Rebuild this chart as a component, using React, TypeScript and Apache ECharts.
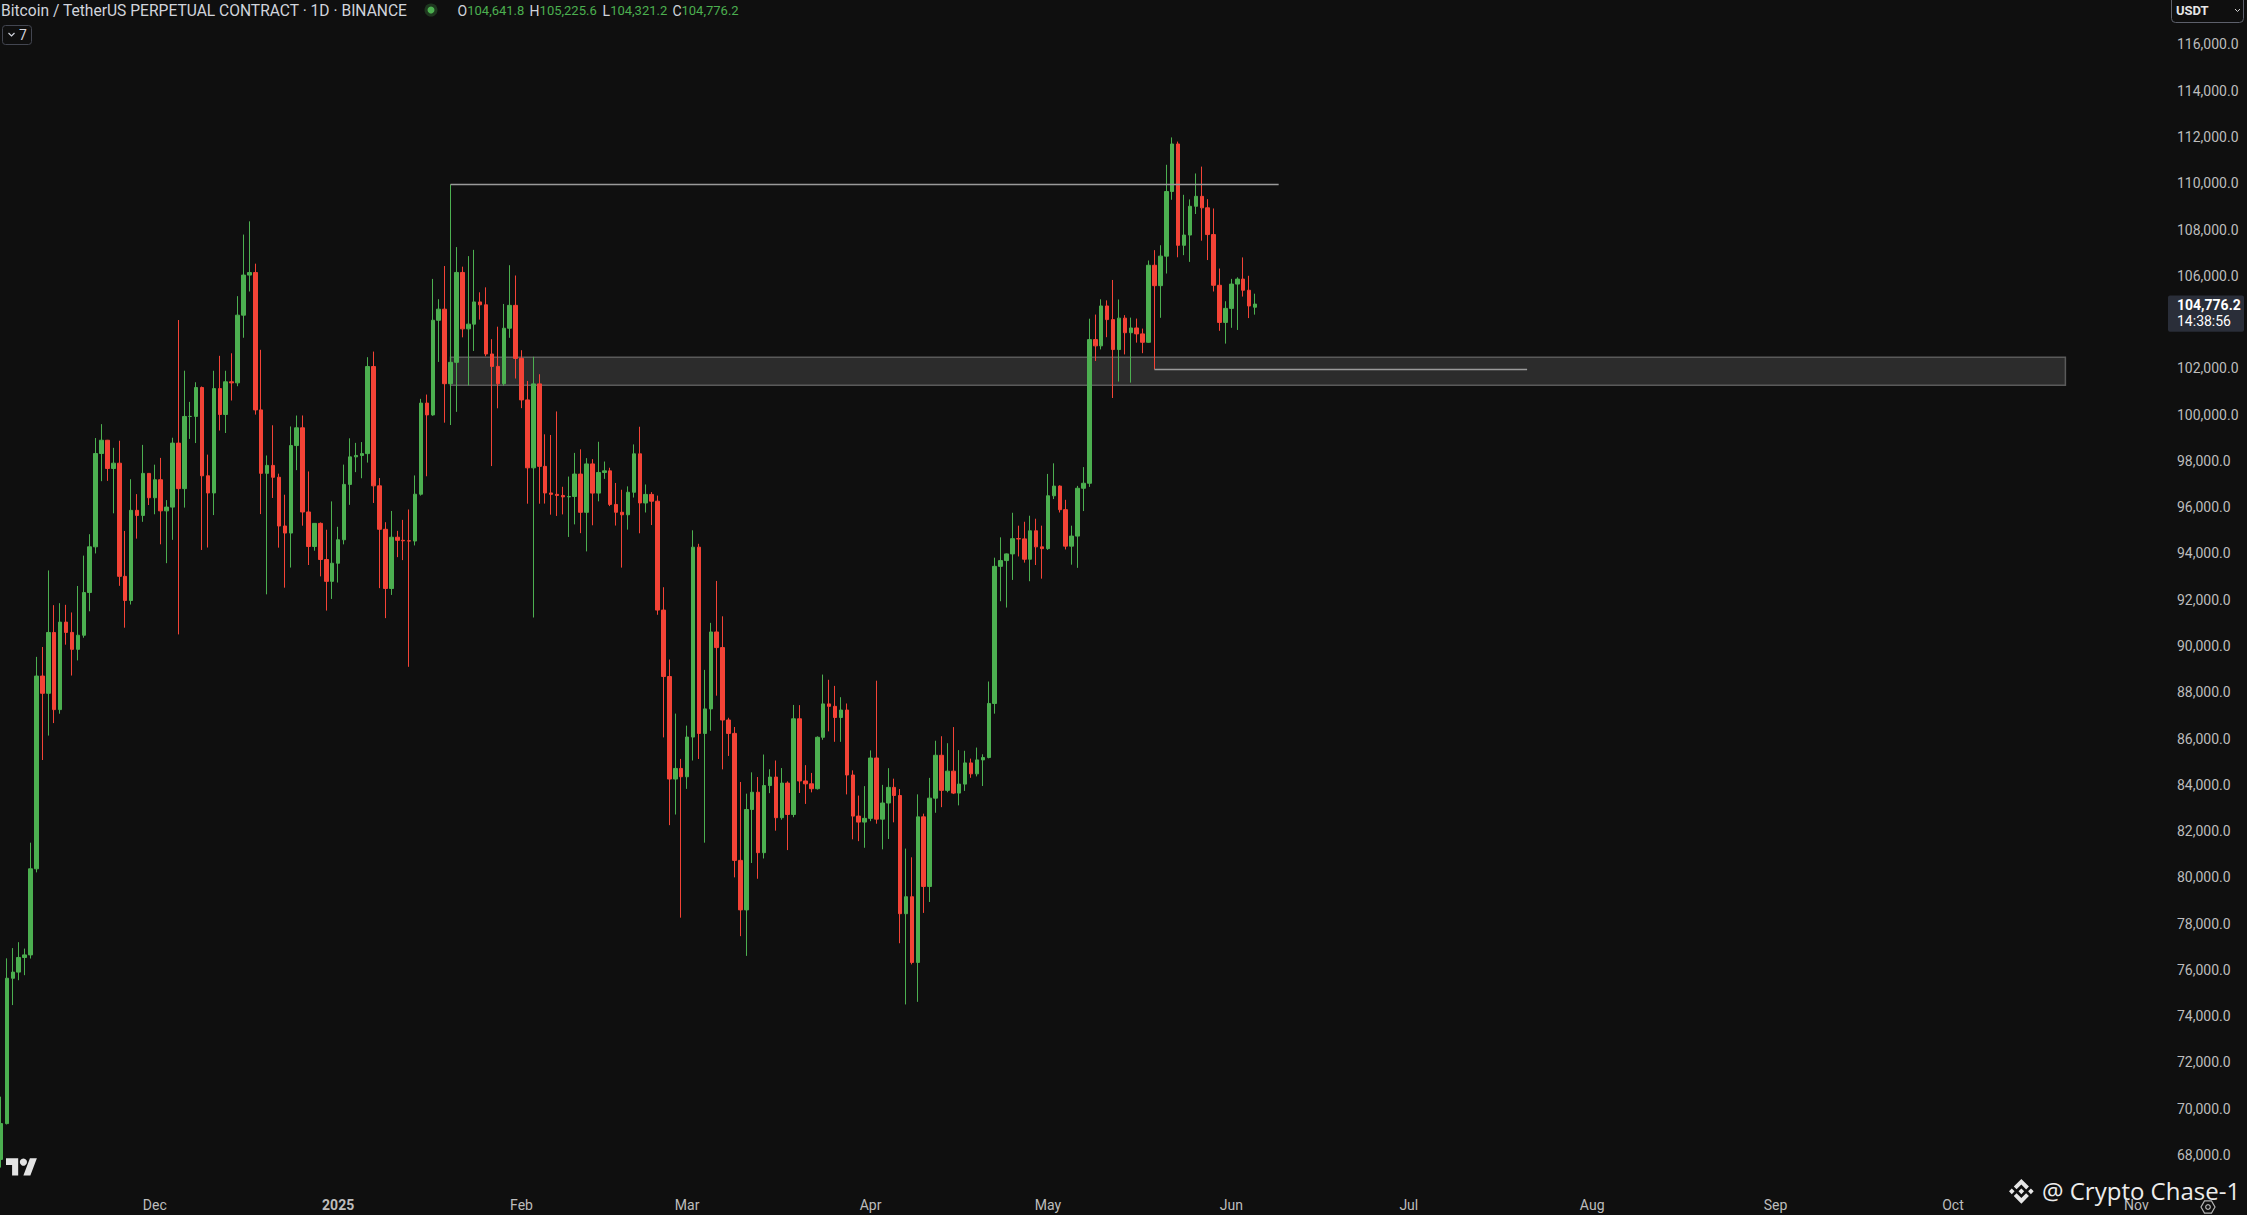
import React, { useEffect, useRef } from "react";
import * as echarts from "echarts";

// ---------- data ----------
const START_DATE = "2024-11-05";
const AXIS_DAYS = 366;

// each row: [open, high, low, close]
const nov2024 = [
  [67811, 70522, 67458, 69359], [69359, 76500, 69322, 75640], [75640, 76943, 74480, 75905],
  [75905, 77199, 75556, 76538], [76538, 76922, 75773, 76649], [76649, 81500, 76492, 80370],
  [80370, 89530, 80216, 88701], [88701, 89956, 85072, 87955], [87955, 93265, 86128, 90585],
  [90585, 91765, 86668, 87250], [87250, 91850, 87073, 91032], [91032, 91779, 90057, 90587],
  [90587, 91449, 88723, 89855], [89855, 92594, 89376, 90465], [90465, 93905, 90357, 92310],
  [92310, 94831, 91500, 94286], [94286, 98988, 94000, 98318], [98318, 99588, 97122, 98892],
  [98892, 98908, 97136, 97672], [97672, 98564, 95734, 97900], [97900, 98871, 92600, 93010],
  [93010, 94973, 90791, 91965], [91965, 97208, 91792, 95863], [95863, 96564, 94640, 95643],
  [95643, 98692, 95366, 97460], [97460, 97463, 96092, 96407],
];
const dec2024 = [
  [96407, 97836, 95693, 97185], [97185, 98130, 94395, 95840], [95840, 96305, 93579, 96002],
  [96002, 99000, 94587, 98768], [98768, 104088, 90500, 96800], [96800, 101898, 95981, 99920],
  [99920, 100551, 98950, 99923], [99923, 101399, 98771, 101171], [101171, 101215, 94150, 97356],
  [97356, 98270, 94256, 96613], [96613, 101895, 95658, 101125], [101125, 102540, 99311, 100005],
  [100005, 101895, 99205, 101418], [101418, 102650, 100609, 101372], [101372, 105120, 101227, 104298],
  [104298, 107781, 103322, 106030], [106030, 108353, 105321, 106140], [106140, 106524, 100000, 100204],
  [100204, 102800, 95700, 97462], [97462, 98233, 92232, 97805], [97805, 99540, 96398, 97292],
  [97292, 97448, 94250, 95186], [95186, 96538, 92520, 94881], [94881, 99487, 93390, 98663],
  [98663, 99960, 97600, 99430], [99430, 99963, 95199, 95792], [95792, 97544, 93500, 94299],
  [94299, 95300, 94118, 95300], [95300, 95340, 93009, 93738], [93738, 95024, 91530, 92793],
  [92793, 96250, 92033, 93576],
];
const jan2025 = [
  [93576, 95151, 92743, 94591], [94591, 97839, 94392, 96984], [96984, 98976, 96100, 98174],
  [98174, 98778, 97514, 98236], [98236, 98813, 97250, 98314], [98314, 102482, 97926, 102078],
  [102078, 102724, 96181, 96922], [96922, 97259, 92500, 95043], [95043, 95350, 91203, 92484],
  [92484, 95836, 92206, 94701], [94701, 94977, 93840, 94567], [94567, 95450, 93712, 94546],
  [94546, 95900, 89100, 94536], [94536, 97371, 94346, 96560], [96560, 100681, 96500, 100498],
  [100498, 100866, 97336, 99987], [99987, 105865, 99950, 104077], [104077, 104988, 102277, 104557],
  [104557, 106422, 99651, 101336], [101336, 109950, 99550, 102260], [102260, 107240, 100119, 106144],
  [106144, 106394, 103339, 103706], [103706, 106850, 101262, 103910], [103910, 107120, 102750, 104870],
  [104870, 105286, 104107, 104746], [104746, 105500, 102520, 102620], [102620, 103260, 97777, 102083],
  [102083, 103800, 100272, 101335], [101335, 104782, 101256, 103733], [103733, 106457, 103320, 104722],
  [104722, 106012, 101560, 102430],
];
const feb2025 = [
  [102430, 102783, 100279, 100635], [100635, 101456, 96150, 97700], [97700, 102500, 91231, 101328],
  [101328, 101745, 96150, 97763], [97763, 99149, 96155, 96613], [96613, 99120, 95676, 96554],
  [96554, 100137, 95620, 96506], [96506, 96880, 95688, 96444], [96444, 97323, 94713, 96462],
  [96462, 98345, 95256, 97430], [97430, 98500, 94876, 95778], [95778, 98119, 94088, 97869],
  [97869, 98076, 95217, 96608], [96608, 98826, 96252, 97500], [97500, 97972, 97223, 97569],
  [97569, 97704, 96046, 96118], [96118, 97046, 95205, 95780], [95780, 96753, 93388, 95671],
  [95671, 96899, 95029, 96644], [96644, 98711, 96415, 98305], [98305, 99475, 94871, 96181],
  [96181, 96980, 95770, 96551], [96551, 96650, 95227, 96258], [96258, 96500, 91349, 91552],
  [91552, 92540, 86050, 88680], [88680, 89414, 82256, 84250], [84250, 87078, 82716, 84708],
  [84708, 85120, 78258, 84349],
];
const mar2025 = [
  [84349, 86558, 83824, 86064], [86064, 95000, 85050, 94270], [94270, 94416, 85117, 86220],
  [86220, 88967, 81500, 87281], [87281, 91000, 86334, 90606], [90606, 92811, 87852, 89931],
  [89931, 91283, 84667, 86801], [86801, 86897, 85248, 86222], [86222, 86500, 80000, 80734],
  [80734, 84123, 77459, 78595], [78595, 83617, 76606, 82932], [82932, 84539, 80621, 83680],
  [83680, 84336, 79939, 81067], [81067, 85309, 80818, 83968], [83968, 84672, 83639, 84335],
  [84335, 85051, 82018, 82579], [82579, 84725, 82492, 84075], [84075, 84150, 81179, 82718],
  [82718, 87453, 82600, 86854], [86854, 87443, 83647, 84167], [84167, 84850, 83175, 84043],
  [84043, 84513, 83674, 83832], [83832, 86094, 83794, 86054], [86054, 88765, 85946, 87498],
  [87498, 88539, 86310, 87392], [87392, 88275, 85860, 86910], [86910, 87786, 85858, 87232],
  [87232, 87515, 83585, 84424], [84424, 84624, 81644, 82648], [82648, 83534, 81565, 82389],
  [82389, 83943, 81279, 82550],
];
const apr2025 = [
  [82550, 85487, 82429, 85159], [85159, 88500, 82320, 82516], [82516, 83998, 81211, 83213],
  [83213, 84720, 81659, 83889], [83889, 84266, 82379, 83538], [83538, 83817, 77153, 78430],
  [78430, 81243, 74508, 79163], [79163, 80867, 76239, 76323], [76323, 83588, 74620, 82615],
  [82615, 82753, 78464, 79607], [79607, 84300, 78936, 83424], [83424, 85905, 82792, 85277],
  [85277, 86100, 83034, 83760], [83760, 85799, 83678, 84591], [84591, 86496, 83600, 83643],
  [83643, 85500, 83111, 84030], [84030, 85470, 83736, 84947], [84947, 85132, 84303, 84474],
  [84474, 85610, 84364, 85077], [85077, 85320, 83949, 85179], [85179, 88465, 85144, 87516],
  [87516, 93817, 87076, 93442], [93442, 94696, 91935, 93691], [93691, 94000, 91661, 93980],
  [93980, 95758, 92855, 94638], [94638, 95199, 93870, 94629], [94629, 95369, 93602, 93750],
  [93750, 95630, 92800, 94979], [94979, 95500, 93500, 94284], [94284, 95200, 92910, 94208],
];
const may2025 = [
  [94208, 97437, 94153, 96492], [96492, 97895, 96350, 96910], [96910, 96943, 95770, 95891],
  [95891, 96318, 94172, 94315], [94315, 95199, 93514, 94749], [94749, 96920, 93377, 96817],
  [96817, 97732, 95832, 97033], [97033, 104145, 96876, 103241], [103241, 104324, 102316, 102971],
  [102971, 104984, 102818, 104696], [104696, 104937, 103346, 104106], [104106, 105819, 100718, 102812],
  [102812, 104976, 101429, 104170], [104170, 104300, 102602, 103539], [103539, 104192, 101383, 103744],
  [103744, 104150, 103111, 103489], [103489, 103718, 102655, 103126], [103126, 106660, 103105, 106454],
  [106454, 107108, 101956, 105573], [105573, 107320, 104184, 106849], [106849, 110797, 106098, 109643],
  [109643, 111980, 109285, 111696], [111696, 111800, 106800, 107318], [107318, 109500, 106891, 107761],
  [107761, 109299, 106601, 109004], [109004, 110422, 108670, 109434], [109434, 110718, 107516, 108938],
  [108938, 109313, 106680, 107781], [107781, 108910, 105322, 105589], [105589, 106313, 103621, 103985],
  [103985, 104900, 103068, 104591],
];
const jun2025 = [
  [104591, 105866, 103752, 105642], [105642, 105935, 103659, 105857], [105857, 106794, 105100, 105376],
  [105376, 105999, 104172, 104696], [104641.8, 105225.6, 104321.2, 104776.2],
];

// drawings
const RESIST_LEVEL = 109950;
const RESIST_FROM = "2025-01-20";
const RESIST_TO = "2025-06-09";
const SUPPORT_LEVEL = 101956;
const SUPPORT_FROM = "2025-05-19";
const SUPPORT_TO = "2025-07-21";
const ZONE_TOP = 102479;
const ZONE_BOTTOM = 101264;
const ZONE_FROM = "2025-01-20";
const ZONE_TO = "2025-10-20";

const Y_MIN = 66000;
const Y_MAX = 118000;
const Y_STEP = 2000;

const TITLE = "Bitcoin / TetherUS PERPETUAL CONTRACT · 1D · BINANCE";
const COUNTDOWN = "14:38:56";
const WATERMARK = "@ Crypto Chase-1";
const MONTHS = ["Jan", "Feb", "Mar", "Apr", "May", "Jun", "Jul", "Aug", "Sep", "Oct", "Nov", "Dec"];

// ---------- style ----------
const BG = "#0f0f0f";
const UP = "#4caf50";
const DOWN = "#f44336";
const AXIS_TEXT = "#bdbdbd";
const HEAD_TEXT = "#d1d4dc";
const FONT = 'Roboto, "Noto Sans", sans-serif';

const TV_PATH = "M14 22H7V11H0V4h14v18zM28 22h-8l7.5-18h8L28 22z";
const BNB_PATH =
  "M38.73 53.2L63.3 28.63L87.89 53.22L102.19 38.92L63.3 0L24.42 38.9zM0 63.31L14.3 49.01L28.6 63.31L14.3 77.61zM38.73 73.41L63.3 97.99L87.89 73.4L102.2 87.69L63.3 126.6L24.42 87.71zM98 63.31L112.3 49.01L126.6 63.31L112.3 77.61zM77.81 63.3L63.3 48.78L48.79 63.28L63.3 77.79z";

let shapesRegistered = false;
function registerShapes() {
  if (shapesRegistered) return;
  echarts.graphic.registerShape("tvlogo", echarts.graphic.extendPath(TV_PATH, {}));
  echarts.graphic.registerShape("bnblogo", echarts.graphic.extendPath(BNB_PATH, {}));
  shapesRegistered = true;
}

function buildDates(start: string, n: number): string[] {
  const [y, m, d] = start.split("-").map(Number);
  const t0 = Date.UTC(y, m - 1, d);
  const out: string[] = [];
  for (let i = 0; i < n; i++) out.push(new Date(t0 + i * 86400000).toISOString().slice(0, 10));
  return out;
}

const fmtPrice = (v: number) =>
  v.toLocaleString("en-US", { minimumFractionDigits: 1, maximumFractionDigits: 1 });

export default function App() {
  const ref = useRef<HTMLDivElement>(null);

  useEffect(() => {
    document.body.style.margin = "0";
    document.body.style.background = BG;
    registerShapes();

    const rows = [...nov2024, ...dec2024, ...jan2025, ...feb2025, ...mar2025, ...apr2025, ...may2025, ...jun2025];
    const dates = buildDates(START_DATE, AXIS_DAYS);
    const candles = rows.map((r) => [r[0], r[3], r[2], r[1]]);
    const last = rows[rows.length - 1];
    const lastColor = last[3] >= last[0] ? UP : DOWN;

    const chart = echarts.init(ref.current!, null, { renderer: "svg", width: 2247, height: 1215 });

    chart.setOption({
      animation: false,
      backgroundColor: BG,
      grid: { left: -2, right: 84, top: -1.87, bottom: 13.7, containLabel: false, outerBoundsMode: "none" },
      xAxis: {
        type: "category",
        data: dates,
        boundaryGap: true,
        axisLine: { show: false },
        axisTick: { show: false },
        splitLine: { show: false },
        axisLabel: {
          interval: (_i: number, v: string) => v.slice(8) === "01",
          formatter: (v: string) => {
            const m = Number(v.slice(5, 7));
            return m === 1 ? "{y|" + v.slice(0, 4) + "}" : MONTHS[m - 1];
          },
          color: AXIS_TEXT,
          fontSize: 14,
          fontFamily: FONT,
          margin: 4,
          verticalAlign: "middle",
          rich: { y: { fontWeight: "bold", color: AXIS_TEXT, fontSize: 14, fontFamily: FONT } },
        },
      },
      yAxis: {
        type: "value",
        position: "right",
        min: Y_MIN,
        max: Y_MAX,
        interval: Y_STEP,
        axisLine: { show: false },
        axisTick: { show: false },
        splitLine: { show: false },
        axisLabel: {
          formatter: (v: number) =>
            v <= Y_MIN || v >= Y_MAX || Math.abs(v - last[3]) < 1000 ? "" : fmtPrice(v),
          align: "left",
          margin: 14,
          color: AXIS_TEXT,
          fontSize: 14,
          fontFamily: FONT,
        },
      },
      series: [
        {
          type: "candlestick",
          data: candles,
          barWidth: 4,
          clip: true,
          itemStyle: {
            color: UP,
            color0: DOWN,
            borderColor: UP,
            borderColor0: DOWN,
            borderColorDoji: UP,
            borderWidth: 1,
          },
          markArea: {
            silent: true,
            itemStyle: { color: "rgba(255,255,255,0.12)", borderColor: "#5a5a5a", borderWidth: 1.5 },
            label: { show: false },
            data: [[{ coord: [ZONE_FROM, ZONE_TOP] }, { coord: [ZONE_TO, ZONE_BOTTOM] }]],
          },
          markLine: {
            silent: true,
            symbol: ["none", "none"],
            label: { show: false },
            lineStyle: { color: "#9a9a9a", width: 1.3, type: "solid" },
            data: [
              [{ coord: [RESIST_FROM, RESIST_LEVEL] }, { coord: [RESIST_TO, RESIST_LEVEL] }],
              [{ coord: [SUPPORT_FROM, SUPPORT_LEVEL] }, { coord: [SUPPORT_TO, SUPPORT_LEVEL] }],
            ],
          },
        },
      ],
    });

    const py = chart.convertToPixel({ yAxisIndex: 0 }, last[3]) as number;
    const ohlcX = [457.6, 529.6, 602.6, 672.4];
    const ohlcKeys = ["O", "H", "L", "C"];
    const ohlcVals = [last[0], last[1], last[2], last[3]];

    const hex: number[][] = [];
    for (let k = 0; k < 6; k++) {
      const a = (Math.PI / 3) * k;
      hex.push([2208 + 7 * Math.cos(a), 1207 + 7 * Math.sin(a)]);
    }

    const graphics: any[] = [
      {
        type: "text",
        x: 1,
        y: 10.5,
        z: 100,
        style: { text: TITLE, fill: HEAD_TEXT, fontSize: 15.6, fontFamily: FONT, verticalAlign: "middle" },
      },
      { type: "circle", z: 100, shape: { cx: 431, cy: 10, r: 6.5 }, style: { fill: "rgba(76,175,80,0.25)" } },
      { type: "circle", z: 101, shape: { cx: 431, cy: 10, r: 3.5 }, style: { fill: UP } },
      ...ohlcKeys.map((k, i) => ({
        type: "text",
        x: ohlcX[i],
        y: 10.5,
        z: 100,
        style: {
          text: "{l|" + k + "}{v|" + fmtPrice(ohlcVals[i]) + "}",
          verticalAlign: "middle",
          rich: {
            l: { fill: HEAD_TEXT, fontSize: 14, fontFamily: FONT },
            v: { fill: lastColor, fontSize: 13, fontFamily: FONT },
          },
        },
      })),
      {
        type: "rect",
        z: 100,
        shape: { x: 2.5, y: 25.5, width: 29, height: 19, r: 3 },
        style: { fill: "none", stroke: "#434651", lineWidth: 1 },
      },
      {
        type: "polyline",
        z: 100,
        shape: { points: [[8.5, 33], [11.5, 36], [14.5, 33]] },
        style: { stroke: HEAD_TEXT, lineWidth: 1.2, fill: "none" },
      },
      {
        type: "text",
        x: 19,
        y: 35,
        z: 100,
        style: { text: "7", fill: HEAD_TEXT, fontSize: 14, fontFamily: FONT, verticalAlign: "middle" },
      },
      {
        type: "rect",
        z: 100,
        shape: { x: 2171.5, y: -4, width: 72, height: 26.5, r: 4 },
        style: { fill: BG, stroke: "#5d606b", lineWidth: 1 },
      },
      {
        type: "text",
        x: 2176,
        y: 10.5,
        z: 101,
        style: {
          text: "USDT",
          fill: "#e6e6e6",
          fontSize: 13,
          fontWeight: "bold",
          fontFamily: FONT,
          verticalAlign: "middle",
        },
      },
      {
        type: "polyline",
        z: 101,
        shape: { points: [[2235, 9], [2237.5, 11.5], [2240, 9]] },
        style: { stroke: "#cfcfcf", lineWidth: 1, fill: "none" },
      },
      {
        type: "rect",
        z: 100,
        shape: { x: 2168, y: py - 8.6, width: 76, height: 36.3, r: 2 },
        style: { fill: "#2a2e39" },
      },
      {
        type: "text",
        x: 2177,
        y: py + 1,
        z: 101,
        style: {
          text: fmtPrice(last[3]),
          fill: "#ffffff",
          fontSize: 14,
          fontWeight: "bold",
          fontFamily: FONT,
          verticalAlign: "middle",
        },
      },
      {
        type: "text",
        x: 2177,
        y: py + 16.6,
        z: 101,
        style: { text: COUNTDOWN, fill: "#ffffff", fontSize: 14, fontFamily: FONT, verticalAlign: "middle" },
      },
      {
        type: "tvlogo",
        x: 6,
        y: 1154.5,
        scaleX: 0.87,
        scaleY: 0.95,
        z: 100,
        style: { fill: "#e3e3e3" },
      },
      {
        type: "circle",
        z: 100,
        shape: { cx: 6 + 20 * 0.87, cy: 1154.5 + 8 * 0.95, r: 3.6 },
        style: { fill: "#e3e3e3" },
      },
      {
        type: "bnblogo",
        x: 2009,
        y: 1179,
        scaleX: 0.195,
        scaleY: 0.195,
        z: 100,
        style: { fill: "#e6e6e6" },
      },
      {
        type: "text",
        x: 2042,
        y: 1190,
        z: 100,
        style: {
          text: WATERMARK,
          fill: "#ececec",
          fontSize: 24,
          fontFamily: '"Open Sans", "Noto Sans", sans-serif',
          verticalAlign: "middle",
        },
      },
      {
        type: "polygon",
        z: 100,
        shape: { points: hex },
        style: { fill: "none", stroke: "#b5b5b5", lineWidth: 1.2 },
      },
      {
        type: "circle",
        z: 100,
        shape: { cx: 2208, cy: 1207, r: 2.3 },
        style: { fill: "none", stroke: "#b5b5b5", lineWidth: 1.2 },
      },
    ];

    chart.setOption({ graphic: graphics });

    return () => chart.dispose();
  }, []);

  return <div ref={ref} style={{ position: "absolute", left: 0, top: 0, width: 2247, height: 1215 }} />;
}
